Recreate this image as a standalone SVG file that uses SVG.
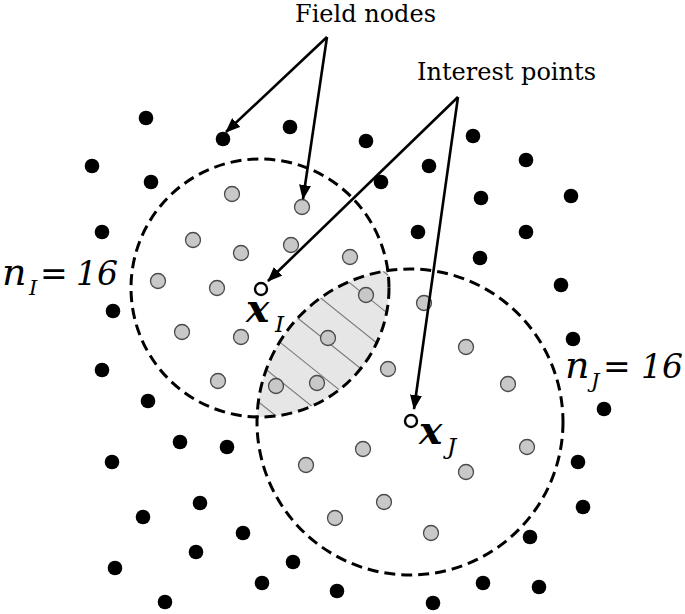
<svg xmlns="http://www.w3.org/2000/svg" width="685" height="614" viewBox="0 0 685 614">
<style>
.bk{fill:#000}
.gy{fill:#c8c8c8;stroke:#4a4a4a;stroke-width:1.3}
.ring{fill:none;stroke:#000;stroke-width:3;stroke-dasharray:11 6}
.hatch{stroke:#7a7a7a;stroke-width:1.1}
.arr{stroke:#000;stroke-width:2.6;fill:none;marker-end:url(#ah)}
.lbl{font-family:"DejaVu Serif","Liberation Serif",serif;font-size:24px;fill:#000}
.mi{font-family:"DejaVu Serif","Liberation Serif",serif;font-style:italic;fill:#000}
.mr{font-family:"DejaVu Serif","Liberation Serif",serif;fill:#000}
.mb{font-family:"DejaVu Serif","Liberation Serif",serif;font-style:italic;font-weight:bold;fill:#000}
.ip{fill:#fff;stroke:#000;stroke-width:2.4}
</style>
<defs>
<marker id="ah" viewBox="0 0 15 12" refX="14" refY="6" markerWidth="15" markerHeight="12" markerUnits="userSpaceOnUse" orient="auto">
<path d="M0,0 L15,6 L0,12 z" fill="#000"/>
</marker>
<clipPath id="lensClip">
<path d="M387.8,270.6 A153,153 0 0 0 257.1,417 A129,129 0 0 0 387.8,270.6 Z"/>
</clipPath>
</defs>
<rect width="685" height="614" fill="#fff"/>

<g id="overlap">
<path d="M387.8,270.6 A153,153 0 0 0 257.1,417 A129,129 0 0 0 387.8,270.6 Z" fill="#e6e6e6"/>
<g clip-path="url(#lensClip)">
<line class="hatch" x1="288" y1="195" x2="475.2" y2="345"/>
<line class="hatch" x1="269.2" y1="218.4" x2="456.4" y2="368.4"/>
<line class="hatch" x1="250.5" y1="241.8" x2="437.7" y2="391.8"/>
<line class="hatch" x1="231.7" y1="265.2" x2="418.9" y2="415.2"/>
<line class="hatch" x1="213" y1="288.6" x2="400.2" y2="438.6"/>
<line class="hatch" x1="194.2" y1="312" x2="381.4" y2="462"/>
<line class="hatch" x1="175.5" y1="335.4" x2="362.7" y2="485.4"/>
</g>
</g>

<g id="support-I"><circle class="ring" cx="260" cy="288" r="129"/></g>
<g id="support-J"><circle class="ring" cx="410" cy="422" r="153"/></g>

<g id="outer-field-nodes">
<circle class="bk" cx="146" cy="118" r="7.3"/>
<circle class="bk" cx="223" cy="139" r="7.3"/>
<circle class="bk" cx="290" cy="127" r="7.3"/>
<circle class="bk" cx="366" cy="141" r="7.3"/>
<circle class="bk" cx="473" cy="136" r="7.3"/>
<circle class="bk" cx="92" cy="166" r="7.3"/>
<circle class="bk" cx="429" cy="166" r="7.3"/>
<circle class="bk" cx="526" cy="160" r="7.3"/>
<circle class="bk" cx="151" cy="182" r="7.3"/>
<circle class="bk" cx="381" cy="182" r="7.3"/>
<circle class="bk" cx="481" cy="198" r="7.3"/>
<circle class="bk" cx="571" cy="196" r="7.3"/>
<circle class="bk" cx="102" cy="232" r="7.3"/>
<circle class="bk" cx="418" cy="232" r="7.3"/>
<circle class="bk" cx="526" cy="232" r="7.3"/>
<circle class="bk" cx="480" cy="258" r="7.3"/>
<circle class="bk" cx="561" cy="285" r="7.3"/>
<circle class="bk" cx="113" cy="311" r="7.3"/>
<circle class="bk" cx="573" cy="339" r="7.3"/>
<circle class="bk" cx="102" cy="370" r="7.3"/>
<circle class="bk" cx="148" cy="401" r="7.3"/>
<circle class="bk" cx="604" cy="409" r="7.3"/>
<circle class="bk" cx="180" cy="442" r="7.3"/>
<circle class="bk" cx="227" cy="447" r="7.3"/>
<circle class="bk" cx="112" cy="462" r="7.3"/>
<circle class="bk" cx="578" cy="462" r="7.3"/>
<circle class="bk" cx="200" cy="503" r="7.3"/>
<circle class="bk" cx="583" cy="507" r="7.3"/>
<circle class="bk" cx="143" cy="517" r="7.3"/>
<circle class="bk" cx="243" cy="533" r="7.3"/>
<circle class="bk" cx="530" cy="537" r="7.3"/>
<circle class="bk" cx="196" cy="552" r="7.3"/>
<circle class="bk" cx="293" cy="562" r="7.3"/>
<circle class="bk" cx="115" cy="568" r="7.3"/>
<circle class="bk" cx="262" cy="583" r="7.3"/>
<circle class="bk" cx="337" cy="591" r="7.3"/>
<circle class="bk" cx="483" cy="583" r="7.3"/>
<circle class="bk" cx="539" cy="587" r="7.3"/>
<circle class="bk" cx="165" cy="602" r="7.3"/>
<circle class="bk" cx="433" cy="603" r="7.3"/>
</g>

<g id="support-field-nodes">
<circle class="gy" cx="232" cy="194" r="7.5"/>
<circle class="gy" cx="302" cy="207" r="7.5"/>
<circle class="gy" cx="193" cy="240" r="7.5"/>
<circle class="gy" cx="241" cy="253" r="7.5"/>
<circle class="gy" cx="291" cy="245" r="7.5"/>
<circle class="gy" cx="350" cy="257" r="7.5"/>
<circle class="gy" cx="158" cy="281" r="7.5"/>
<circle class="gy" cx="217" cy="288" r="7.5"/>
<circle class="gy" cx="182" cy="332" r="7.5"/>
<circle class="gy" cx="241" cy="337" r="7.5"/>
<circle class="gy" cx="218" cy="381" r="7.5"/>
<circle class="gy" cx="328" cy="338" r="7.5"/>
<circle class="gy" cx="366" cy="295" r="7.5"/>
<circle class="gy" cx="276" cy="386" r="7.5"/>
<circle class="gy" cx="317" cy="383" r="7.5"/>
<circle class="gy" cx="424" cy="303" r="7.5"/>
<circle class="gy" cx="466" cy="347" r="7.5"/>
<circle class="gy" cx="388" cy="369" r="7.5"/>
<circle class="gy" cx="508" cy="384" r="7.5"/>
<circle class="gy" cx="363" cy="449" r="7.5"/>
<circle class="gy" cx="527" cy="447" r="7.5"/>
<circle class="gy" cx="466" cy="472" r="7.5"/>
<circle class="gy" cx="306" cy="465" r="7.5"/>
<circle class="gy" cx="335" cy="518" r="7.5"/>
<circle class="gy" cx="384" cy="502" r="7.5"/>
<circle class="gy" cx="431" cy="533" r="7.5"/>
</g>

<g id="point-xI">
<circle class="ip" cx="261" cy="289" r="6"/>
<text class="mb" x="246" y="322" font-size="39">x</text>
<text class="mi" x="275" y="332" font-size="23">I</text>
</g>
<g id="point-xJ">
<circle class="ip" cx="411" cy="421" r="6"/>
<text class="mb" x="419" y="444" font-size="39">x</text>
<text class="mi" x="447" y="454" font-size="23">J</text>
</g>

<g id="label-nI">
<text class="mi" x="2" y="285" font-size="38">n</text>
<text class="mi" x="29" y="295" font-size="21">I</text>
<text class="mr" x="40" y="285" font-size="33">=</text>
<text class="mi" x="76" y="285" font-size="33">16</text>
</g>
<g id="label-nJ">
<text class="mi" x="565" y="378" font-size="38">n</text>
<text class="mi" x="591" y="388" font-size="21">J</text>
<text class="mr" x="603" y="378" font-size="33">=</text>
<text class="mi" x="641" y="378" font-size="33">16</text>
</g>

<g id="label-field-nodes"><text class="lbl" x="295" y="22">Field nodes</text></g>
<g id="label-interest-points"><text class="lbl" x="417" y="80">Interest points</text></g>

<g id="connectors">
<line class="arr" x1="327" y1="37" x2="226" y2="132"/>
<line class="arr" x1="327" y1="37" x2="303" y2="199"/>
<line class="arr" x1="458" y1="97" x2="268" y2="281"/>
<line class="arr" x1="458" y1="97" x2="414" y2="409"/>
</g>
</svg>
